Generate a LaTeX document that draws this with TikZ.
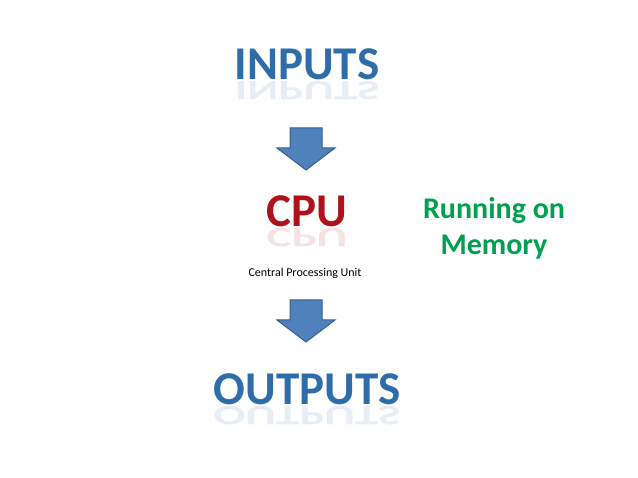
\documentclass[tikz,border=0pt]{standalone}
\usepackage{fontspec}
\setmainfont{Carlito}
\definecolor{blueA}{HTML}{4F81BD}
\definecolor{blueB}{HTML}{385D8A}
\definecolor{cpured}{HTML}{B0121B}
\definecolor{memgreen}{HTML}{00A050}
\definecolor{titleblue}{HTML}{2E6DAA}
\begin{document}
\begin{tikzpicture}[x=1pt,y=-1pt,
  big/.style={font=\fontsize{47}{47}\bfseries\selectfont, inner sep=0pt, anchor=base},
  refl/.style={big, yscale=-0.6, opacity=0.12},
  blockarrow/.style={fill=blueA, draw=blueB, line width=1pt}]
\useasboundingbox (0,0) rectangle (638,478);
% INPUTS
\node[big, text=titleblue] (inputs) at (307,80) {INPUTS};
\node[refl, text=titleblue] (inputsr) at (307,82) {INPUTS};
% arrow 1
\draw[blockarrow] (290,128) -- (322,128) -- (322,148) -- (335,148) -- (306,170) -- (277,148) -- (290,148) -- cycle;
% CPU
\node[big, text=cpured] (cpu) at (307,227) {CPU};
\node[refl, text=cpured] (cpur) at (307,229) {CPU};
\node[font=\fontsize{12}{14}\selectfont] (cpulabel) at (305,273) {Central Processing Unit};
% Memory
\node[font=\fontsize{30}{36}\bfseries\selectfont, text=memgreen, align=center] (mem) at (494,228) {Running on\\Memory};
% arrow 2
\draw[blockarrow] (290,300) -- (322,300) -- (322,320) -- (335,320) -- (306,342) -- (277,320) -- (290,320) -- cycle;
% OUTPUTS
\node[big, text=titleblue] (outputs) at (307,405) {OUTPUTS};
\node[refl, text=titleblue] (outputsr) at (307,407) {OUTPUTS};
\end{tikzpicture}
\end{document}
